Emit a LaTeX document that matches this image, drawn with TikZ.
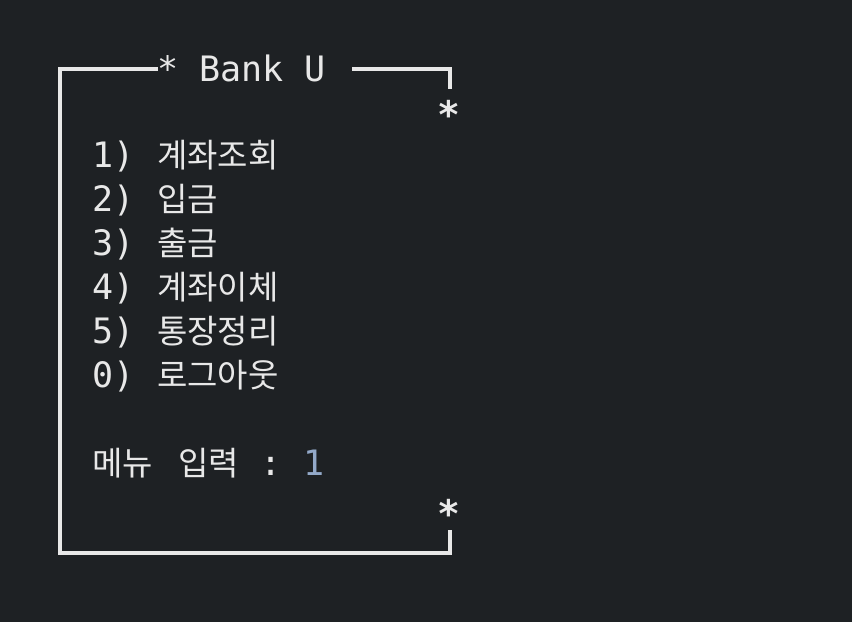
\documentclass[tikz,border=0pt]{standalone}
\usepackage{fontspec}
\setmonofont{DejaVu Sans Mono}
\newfontfamily\kr{Noto Sans CJK KR}
\definecolor{bg}{HTML}{1E2124}
\definecolor{fg}{HTML}{E8E8E8}
\definecolor{num}{HTML}{93A9C9}
\begin{document}
\begin{tikzpicture}[x=1pt,y=-1pt,
  txt/.style={anchor=base west,inner sep=0pt,text=fg,font=\ttfamily\fontsize{35}{35}\selectfont},
  ko/.style={anchor=base west,inner sep=0pt,text=fg,font=\kr\fontsize{33}{33}\selectfont},
  frame/.style={draw=fg,line width=4pt}]
\fill[bg] (0,0) rectangle (852,622);
\useasboundingbox (0,0) rectangle (852,622);
\node[txt] (title) at (157,81) {* Bank U};
\draw[frame] (158,69) -- (60,69) -- (60,553) -- (450,553) -- (450,530);
\draw[frame] (352,69) -- (450,69) -- (450,89);
\node[txt,font=\ttfamily\bfseries\fontsize{38}{38}\selectfont] (s1) at (437,128) {*};
\node[txt,font=\ttfamily\bfseries\fontsize{38}{38}\selectfont] (s2) at (437,527) {*};
\foreach \n/\t/\y in {a/1/167,b/2/211,c/3/255,d/4/299,e/5/343,f/0/387}{
  \node[txt] (n\n) at (92,\y) {\t)};}
\node[ko] (ka) at (157,167) {계좌조회};
\node[ko] (kb) at (157,211) {입금};
\node[ko] (kc) at (157,255) {출금};
\node[ko] (kd) at (157,299) {계좌이체};
\node[ko] (ke) at (157,343) {통장정리};
\node[ko] (kf) at (157,387) {로그아웃};
\node[ko] (m1) at (92,475) {메뉴};
\node[ko] (m2) at (178,475) {입력};
\node[txt] (colon) at (260,475) {:};
\node[txt,text=num] (one) at (303,475) {1};
\end{tikzpicture}
\end{document}
